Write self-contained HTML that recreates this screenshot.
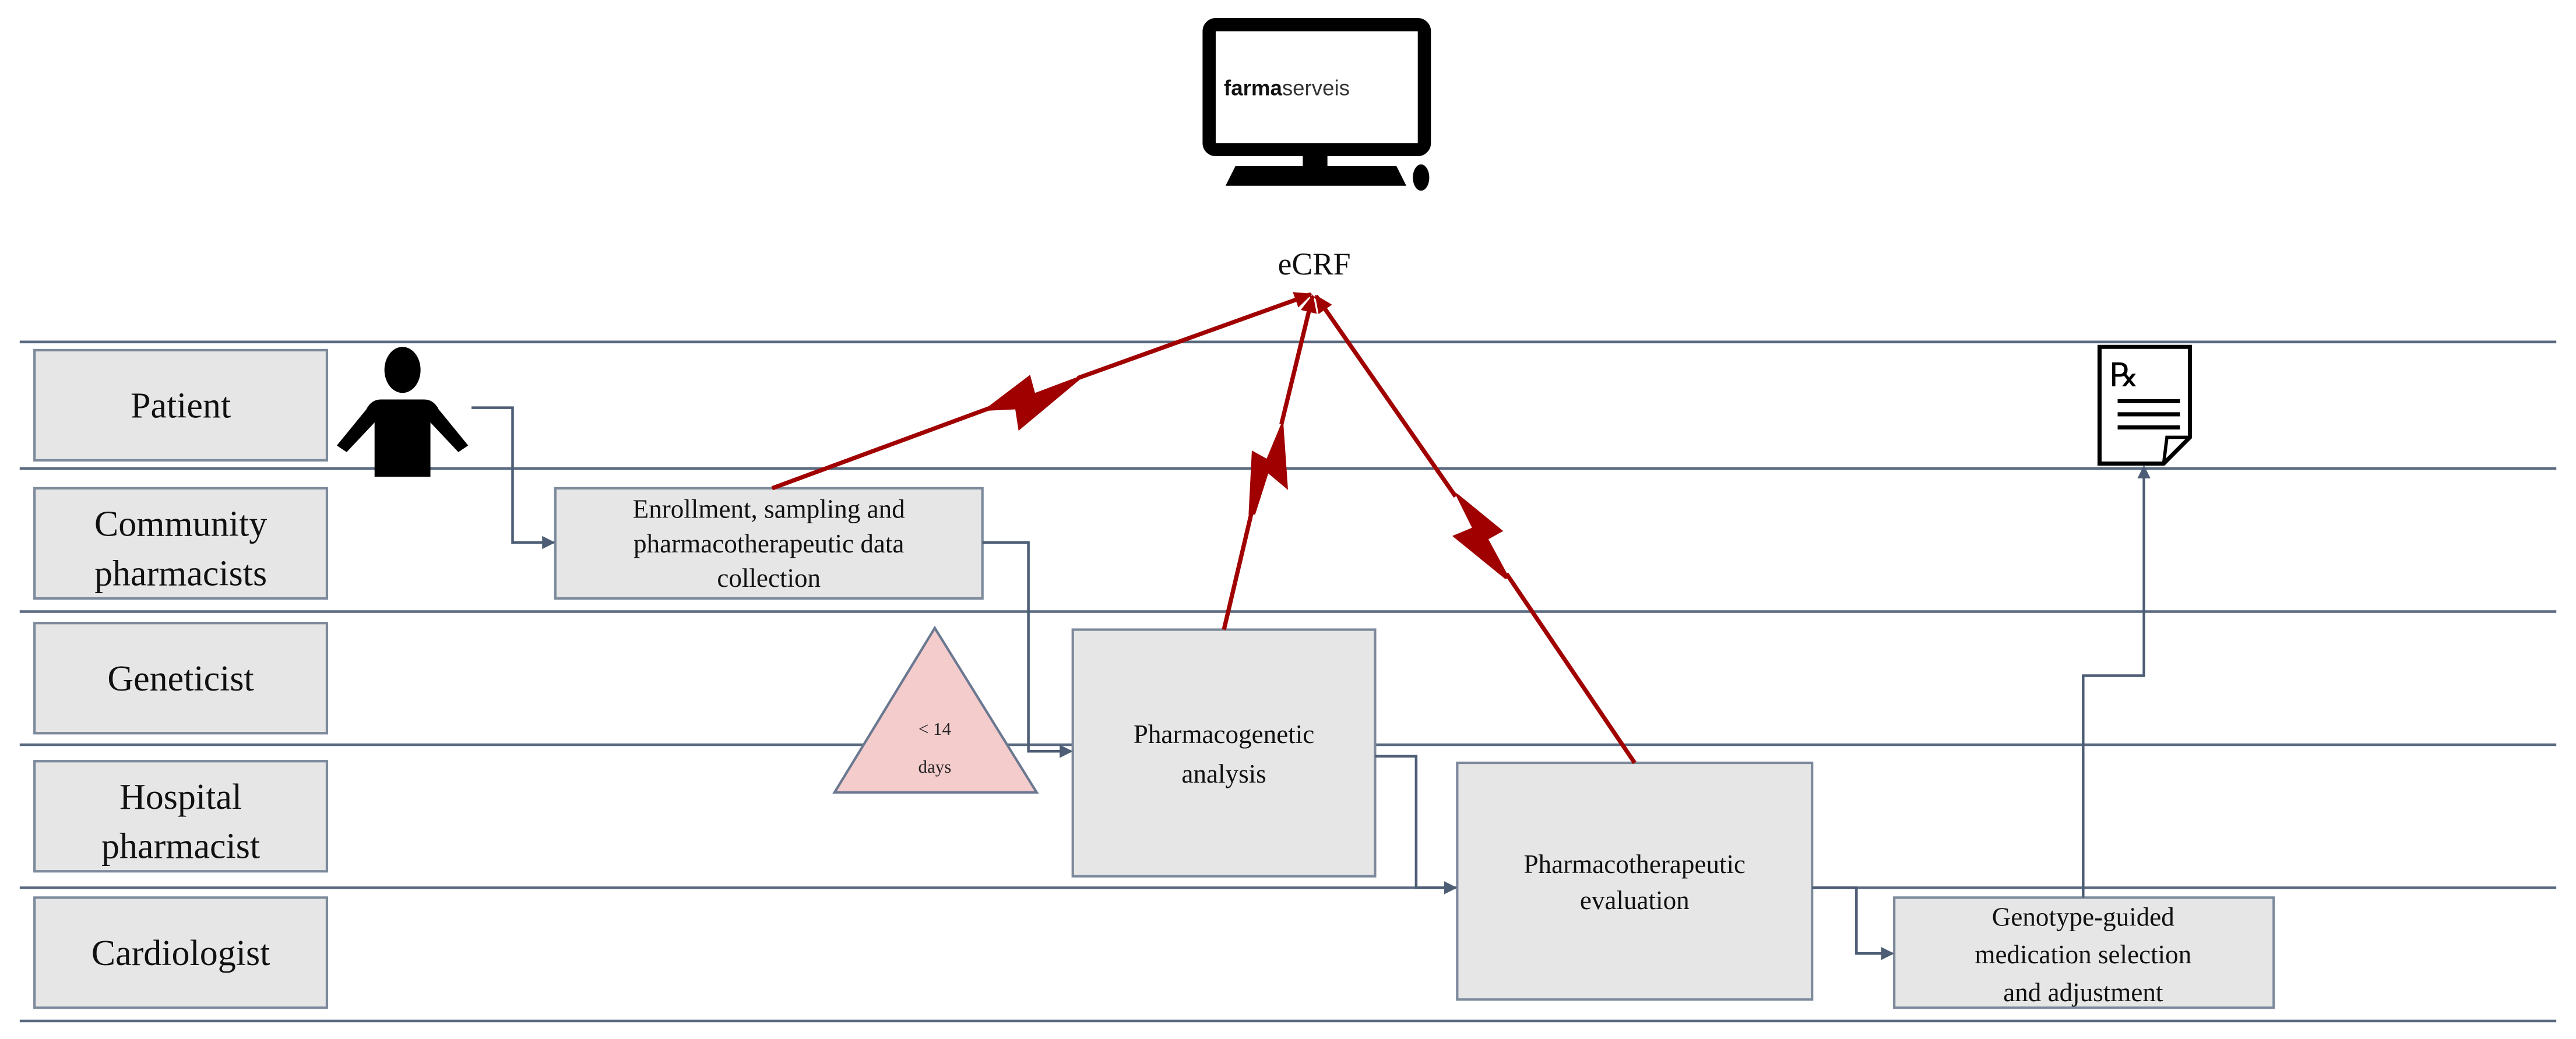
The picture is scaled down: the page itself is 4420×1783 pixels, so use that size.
<!DOCTYPE html>
<html><head><meta charset="utf-8"><style>html,body{margin:0;padding:0;background:#fff}svg{display:block}</style></head>
<body>
<svg width="4420" height="1783" viewBox="0 0 1568 632" preserveAspectRatio="none" xmlns="http://www.w3.org/2000/svg" font-family="'Liberation Serif', serif">
<defs>
<marker id="ab" markerWidth="8" markerHeight="8" refX="7" refY="4" orient="auto" markerUnits="userSpaceOnUse"><path d="M0,0 L8,4 L0,8 Z" fill="#4d5d75"/></marker>
<marker id="ar" markerWidth="12" markerHeight="12" refX="10" refY="6" orient="auto" markerUnits="userSpaceOnUse"><path d="M0,1 L11,6 L0,11 Z" fill="#a00000"/></marker>
</defs>
<g stroke="#5a6a80" stroke-width="1.6">
<line x1="12" y1="208" x2="1556" y2="208"/><line x1="12" y1="285" x2="1556" y2="285"/>
<line x1="12" y1="372" x2="1556" y2="372"/><line x1="12" y1="453" x2="1556" y2="453"/>
<line x1="12" y1="540" x2="1556" y2="540"/><line x1="12" y1="621" x2="1556" y2="621"/>
</g>
<g fill="#e6e6e6" stroke="#7d8a9c" stroke-width="1.5">
<rect x="21" y="213" width="178" height="67"/><rect x="21" y="297" width="178" height="67"/>
<rect x="21" y="379" width="178" height="67"/><rect x="21" y="463" width="178" height="67"/>
<rect x="21" y="546" width="178" height="67"/>
<rect x="338" y="297" width="260" height="67"/>
<rect x="653" y="383" width="184" height="150"/>
<rect x="887" y="464" width="216" height="144"/>
<rect x="1153" y="546" width="231" height="67"/>
</g>
<polygon points="569,382 508,482 631,482" fill="#f4cccc" stroke="#6a7890" stroke-width="1.5"/>
<g font-size="22" text-anchor="middle" fill="#111">
<text x="110" y="254">Patient</text>
<text x="110" y="326">Community</text><text x="110" y="356">pharmacists</text>
<text x="110" y="420">Geneticist</text>
<text x="110" y="492">Hospital</text><text x="110" y="522">pharmacist</text>
<text x="110" y="587">Cardiologist</text>
</g>
<g font-size="16" text-anchor="middle" fill="#111">
<text x="468" y="315">Enrollment, sampling and</text>
<text x="468" y="336">pharmacotherapeutic data</text>
<text x="468" y="357">collection</text>
<text x="745" y="452">Pharmacogenetic</text><text x="745" y="476">analysis</text>
<text x="995" y="531">Pharmacotherapeutic</text><text x="995" y="553">evaluation</text>
<text x="1268" y="563">Genotype-guided</text><text x="1268" y="586">medication selection</text><text x="1268" y="609">and adjustment</text>
</g>
<text x="569" y="447" font-size="11" text-anchor="middle" fill="#222">&lt; 14</text>
<text x="569" y="470" font-size="11" text-anchor="middle" fill="#222">days</text>
<text x="800" y="167" font-size="19" text-anchor="middle" fill="#111">eCRF</text>
<g fill="none" stroke="#4d5d75" stroke-width="1.6">
<polyline points="287,248 312,248 312,330 337,330" marker-end="url(#ab)"/>
<polyline points="598,330 626,330 626,457 652,457" marker-end="url(#ab)"/>
<polyline points="837,460 862,460 862,540 886,540" marker-end="url(#ab)"/>
<polyline points="1103,540 1130,540 1130,580 1152,580" marker-end="url(#ab)"/>
<polyline points="1268,546 1268,411 1305,411 1305,284" marker-end="url(#ab)"/>
</g>
<g fill="none" stroke="#a00000" stroke-width="2.6">
<line x1="470" y1="297" x2="603" y2="248"/>
<line x1="656" y1="230" x2="798" y2="179" marker-end="url(#ar)"/>
<line x1="745" y1="383" x2="762" y2="311"/>
<line x1="780" y1="258" x2="799" y2="180" marker-end="url(#ar)"/>
<line x1="995" y1="464" x2="917" y2="349"/>
<line x1="886" y1="302" x2="801" y2="180" marker-end="url(#ar)"/>
</g>
<g fill="#a00000">
<polygon points="598,250 627,228 630,239 662,227 620,262 618,249"/>
<polygon points="760,313 762,274 771,279 781,255 784,298 772,288 764,313"/>
<polygon points="885,299 888,301 915,323 906,328 919,352 916,352 884,326 896,321"/>
</g>
<rect x="736" y="15" width="131" height="76" rx="4" fill="#fff" stroke="#000" stroke-width="8"/>
<rect x="793" y="94" width="15" height="8" fill="#000"/>
<polygon points="752,101 850,101 856,113 746,113" fill="#000"/>
<ellipse cx="865" cy="108" rx="5" ry="8" fill="#000"/>
<text x="745" y="58" font-family="'Liberation Sans', sans-serif" font-size="13" fill="#111"><tspan font-weight="bold">farma</tspan><tspan fill="#333">serveis</tspan></text>
<ellipse cx="245" cy="225" rx="11" ry="14" fill="#000"/>
<path d="M232,243 L258,243 Q264,243 267,249 L285,271 L279,275 L262,257 L262,290 L228,290 L228,257 L211,275 L205,271 L223,249 Q226,243 232,243 Z" fill="#000"/>
<path d="M1278,211 L1333,211 L1333,266 L1317,282 L1278,282 Z" fill="#fff" stroke="#000" stroke-width="2.5"/>
<path d="M1333,266 L1319,266 L1317,282" fill="none" stroke="#000" stroke-width="2"/>
<text x="1284" y="235" font-size="20" fill="#000">℞</text>
<g stroke="#000" stroke-width="2.5"><line x1="1289" y1="244" x2="1327" y2="244"/><line x1="1289" y1="252" x2="1327" y2="252"/><line x1="1289" y1="260" x2="1327" y2="260"/></g>
</svg>
</body></html>
